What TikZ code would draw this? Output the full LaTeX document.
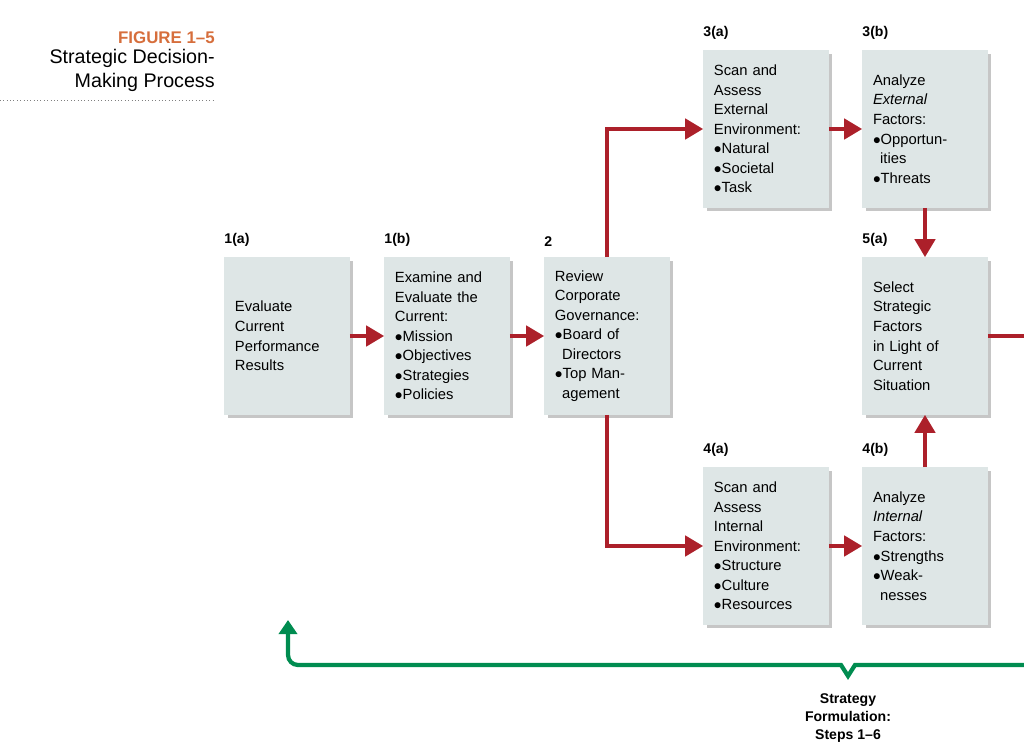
\documentclass[tikz,border=0pt]{standalone}
\usepackage{fontspec}
\setmainfont{Liberation Sans}
\usepackage{tikz}
\usetikzlibrary{arrows.meta, shadows}
\definecolor{boxfill}{RGB}{222,230,230}
\definecolor{redline}{RGB}{172,32,42}
\definecolor{greenline}{RGB}{0,140,80}
\definecolor{figorange}{RGB}{214,110,60}
\tikzstyle{stepbox} = [rectangle, minimum width=3.125cm, minimum height=3.925cm, text width=2.6cm, align=left, font=\fontsize{10.5}{13.9}\selectfont, fill=boxfill, drop shadow={shadow xshift=0.08cm, shadow yshift=-0.08cm, opacity=0.45}]
\tikzstyle{steptag} = [anchor=south west, inner sep=0pt, font=\fontsize{10}{12}\selectfont\bfseries]
\tikzstyle{arrow} = [redline, line width=3pt, -{Triangle[length=0.45cm, width=0.5cm]}]
\tikzstyle{feed} = [greenline, line width=3pt]
\begin{document}
\begin{tikzpicture}[x=0.025cm, y=-0.025cm]
  \useasboundingbox (0,0) rectangle (1024,747);
  % title
  \node (fig) [anchor=east, inner sep=0pt, text=figorange, font=\fontsize{12}{14}\selectfont\bfseries] at (215,38) {FIGURE 1--5};
  \node (title) [anchor=north east, inner sep=0pt, align=right, font=\fontsize{14}{17}\selectfont] at (215,49) {Strategic Decision-\\Making Process};
  \draw[dotted, gray] (0,100) -- (215,100);
  % steps
  \node (eval) [stepbox] at (287,336) {Evaluate\\Current\\Performance\\Results};
  \node (examine) [stepbox] at (447,336) {Examine and\\Evaluate the\\Current:\\$\bullet$Mission\\$\bullet$Objectives\\$\bullet$Strategies\\$\bullet$Policies};
  \node (govern) [stepbox] at (607,336) {Review\\Corporate\\Governance:\\$\bullet$Board of\\\hspace*{0.18cm}Directors\\$\bullet$Top Man-\\\hspace*{0.18cm}agement};
  \node (extscan) [stepbox] at (766,129) {Scan and\\Assess\\External\\Environment:\\$\bullet$Natural\\$\bullet$Societal\\$\bullet$Task};
  \node (extfac) [stepbox] at (925,129) {Analyze\\\textit{External}\\Factors:\\$\bullet$Opportun-\\\hspace*{0.18cm}ities\\$\bullet$Threats};
  \node (select) [stepbox] at (925,336) {Select\\Strategic\\Factors\\in Light of\\Current\\Situation};
  \node (intscan) [stepbox] at (766,546) {Scan and\\Assess\\Internal\\Environment:\\$\bullet$Structure\\$\bullet$Culture\\$\bullet$Resources};
  \node (intfac) [stepbox] at (925,546) {Analyze\\\textit{Internal}\\Factors:\\$\bullet$Strengths\\$\bullet$Weak-\\\hspace*{0.18cm}nesses};
  % step numbers
  \node (t1a) [steptag] at (eval.north west) [yshift=0.25cm] {1(a)};
  \node (t1b) [steptag] at (examine.north west) [yshift=0.25cm] {1(b)};
  \node (t2) [steptag] at (govern.north west) [yshift=0.25cm] {2};
  \node (t3a) [steptag] at (extscan.north west) [yshift=0.25cm] {3(a)};
  \node (t3b) [steptag] at (extfac.north west) [yshift=0.25cm] {3(b)};
  \node (t5a) [steptag] at (select.north west) [yshift=0.25cm] {5(a)};
  \node (t4a) [steptag] at (intscan.north west) [yshift=0.25cm] {4(a)};
  \node (t4b) [steptag] at (intfac.north west) [yshift=0.25cm] {4(b)};
  % connectors
  \coordinate (rightend) at (1024,336);
  \draw[arrow] (eval) -- (examine);
  \draw[arrow] (examine) -- (govern);
  \draw[arrow] (govern.north) |- (extscan.west);
  \draw[arrow] (govern.south) |- (intscan.west);
  \draw[arrow] (extscan) -- (extfac);
  \draw[arrow] (intscan) -- (intfac);
  \draw[arrow] (extfac) -- (select);
  \draw[arrow] (intfac) -- (select);
  \draw[redline, line width=3pt] (select) -- (rightend);
  % feedback
  \coordinate (greenend) at (1024,665);
  \coordinate (back) at (288,620);
  \draw[feed, -{Triangle[length=0.35cm, width=0.45cm]}] (greenend) -- (855,665) -- (848,676) -- (841,665) [rounded corners=0.25cm] -- (288,665) -- (back);
  \node (formul) [align=center, font=\fontsize{10}{12.5}\selectfont\bfseries] at (848,718) {Strategy\\Formulation:\\Steps 1--6};
\end{tikzpicture}
\end{document}
